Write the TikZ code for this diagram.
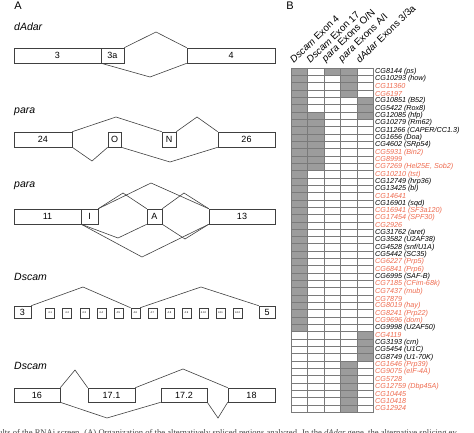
\documentclass[tikz,border=0pt]{standalone}
\usepackage{fontspec}
\setmainfont{Liberation Sans}
\newfontfamily\capfont{Liberation Serif}
\definecolor{hitred}{HTML}{EE6A4E}
\definecolor{cellgray}{HTML}{9C9C9C}
\definecolor{gridgray}{HTML}{7A7A7A}
\definecolor{boxline}{HTML}{404040}
\newcommand\glab[3]{\node[glabel,text=#3] (g#1) at (375,{68+(#1-0.5)*7.32}) {#2};}
\begin{document}
\begin{tikzpicture}[x=1pt,y=-1pt,
  exon/.style={draw=boxline, line width=0.6pt, fill=white, inner sep=0pt, font=\fontsize{9}{9}\selectfont},
  mini/.style={draw=boxline, line width=0.5pt, fill=white, inner sep=0pt, minimum width=9pt, minimum height=10pt, font=\fontsize{2.6}{2.6}\selectfont},
  junc/.style={draw=boxline, line width=0.6pt},
  gene/.style={anchor=west, inner sep=0pt, font=\fontsize{10.5}{10.5}\selectfont\itshape},
  panel/.style={inner sep=0pt, font=\fontsize{11}{11}\selectfont},
  glabel/.style={anchor=west, inner sep=0pt, font=\fontsize{7.2}{7.2}\selectfont\itshape},
  hdr/.style={anchor=south west, inner sep=0pt, rotate=44, font=\fontsize{9.8}{9.8}\selectfont},
  grid/.style={draw=gridgray, line width=0.4pt}
]
\useasboundingbox (0,0) rectangle (474,433);

% ---------- Panel A ----------
\node[panel] (lA) at (18,6) {A};

% dAdar
\node[gene] (t1) at (14,27) {dAdar};
\node[exon, minimum width=87pt, minimum height=15pt] (e3) at (57.5,55.5) {3};
\node[exon, minimum width=23pt, minimum height=15pt] (e3a) at (112.5,55.5) {3a};
\node[exon, minimum width=88pt, minimum height=15pt] (e4) at (231,55.5) {4};
\coordinate (p1) at (156,32);
\coordinate (p2) at (150,77);
\draw[junc] (e3a.north east) -- (p1) -- (e4.north west);
\draw[junc] (e3.south east) -- (p2) -- (e4.south west);

% para O/N
\node[gene] (t2) at (14,112) {para};
\node[exon, minimum width=58pt, minimum height=15pt] (e24) at (43,139.5) {24};
\node[exon, minimum width=13pt, minimum height=15pt] (eO) at (114.5,139.5) {O};
\node[exon, minimum width=14pt, minimum height=15pt] (eN) at (169,139.5) {N};
\node[exon, minimum width=57pt, minimum height=15pt] (e26) at (246.5,139.5) {26};
\coordinate (q1) at (116,117);
\coordinate (q2) at (197,117);
\coordinate (q3) at (92,161);
\coordinate (q4) at (170,162);
\draw[junc] (e24.north east) -- (q1) -- (eN.north west);
\draw[junc] (eN.north east) -- (q2) -- (e26.north west);
\draw[junc] (e24.south east) -- (q3) -- (eO.south west);
\draw[junc] (eO.south east) -- (q4) -- (e26.south west);

% para A/I
\node[gene] (t3) at (14,186) {para};
\node[exon, minimum width=67pt, minimum height=15pt] (e11) at (47.5,216.5) {11};
\node[exon, minimum width=17pt, minimum height=15pt] (eI) at (89.5,216.5) {I};
\node[exon, minimum width=15pt, minimum height=15pt] (eA) at (154.5,216.5) {A};
\node[exon, minimum width=66pt, minimum height=15pt] (e13) at (242,216.5) {13};
\coordinate (r1) at (123,193);
\coordinate (r2) at (151,183);
\coordinate (r3) at (184,193);
\coordinate (r4) at (118,238);
\coordinate (r5) at (142,257);
\coordinate (r6) at (185,239);
\draw[junc] (eI.north east) -- (r1) -- (eA.north west);
\draw[junc] (eI.north east) -- (r2) -- (e13.north west);
\draw[junc] (eA.north east) -- (r3) -- (e13.north west);
\draw[junc] (e11.south east) -- (r4) -- (eA.south west);
\draw[junc] (e11.south east) -- (r5) -- (e13.south west);
\draw[junc] (eA.south east) -- (r6) -- (e13.south west);

% Dscam exon 4
\node[gene] (t4) at (14,277) {Dscam};
\node[exon, minimum width=17pt, minimum height=12pt] (d3) at (22.5,312) {3};
\foreach \i in {1,...,12} {
  \node[mini] (d4\i) at ({50.2+(\i-1)*17.03},313) {4.\i};
}
\node[exon, minimum width=16pt, minimum height=12pt] (d5) at (267,312) {5};
\coordinate (s1) at (83,287);
\coordinate (s2) at (201,287);
\draw[junc] (d3.north east) -- (s1) -- (d46.north west);
\draw[junc] (d46.north east) -- (s2) -- (d5.north west);

% Dscam exon 17
\node[gene] (t5) at (14,366) {Dscam};
\node[exon, minimum width=46pt, minimum height=14pt] (f16) at (37,395) {16};
\node[exon, minimum width=47pt, minimum height=14pt] (f171) at (111.5,395) {17.1};
\node[exon, minimum width=46pt, minimum height=14pt] (f172) at (184,395) {17.2};
\node[exon, minimum width=47pt, minimum height=14pt] (f18) at (251.5,395) {18};
\coordinate (u1) at (75,370);
\coordinate (u2) at (183,369);
\coordinate (u3) at (107,418);
\coordinate (u4) at (218,418);
\draw[junc] (f16.north east) -- (u1) -- (f171.north west);
\draw[junc] (f171.north east) -- (u2) -- (f18.north west);
\draw[junc] (f16.south east) -- (u3) -- (f172.south west);
\draw[junc] (f172.south east) -- (u4) -- (f18.south west);

% ---------- Panel B ----------
\node[panel] (lB) at (290,6) {B};

\node[hdr] (h1) at (294,64) {\textit{Dscam} Exon 4};
\node[hdr] (h2) at (310.5,64) {\textit{Dscam} Exon 17};
\node[hdr] (h3) at (327,64) {\textit{para} Exons O/N};
\node[hdr] (h4) at (343.5,64) {\textit{para} Exons A/I};
\node[hdr] (h5) at (360,64) {\textit{dAdar} Exons 3/3a};

% shaded cells: column / first row / last row
\foreach \c/\a/\b in {1/1/36, 2/7/14, 3/1/1, 4/1/4, 4/41/47, 5/5/7, 5/37/40} {
  \fill[cellgray] ({291+(\c-1)*16.5},{68+(\a-1)*7.32}) rectangle ({291+\c*16.5},{68+\b*7.32});
}
% grid
\foreach \r in {0,...,47} {
  \draw[grid] (291,{68+\r*7.32}) -- (373.5,{68+\r*7.32});
}
\foreach \c in {0,...,5} {
  \draw[grid] ({291+\c*16.5},68) -- ({291+\c*16.5},{68+47*7.32});
}

% gene labels
\glab{1}{CG8144 (ps)}{black}
\glab{2}{CG10293 (how)}{black}
\glab{3}{CG11360}{hitred}
\glab{4}{CG6197}{hitred}
\glab{5}{CG10851 (B52)}{black}
\glab{6}{CG5422 (Rox8)}{black}
\glab{7}{CG12085 (hfp)}{black}
\glab{8}{CG10279 (Rm62)}{black}
\glab{9}{CG11266 (CAPER/CC1.3)}{black}
\glab{10}{CG1656 (Doa)}{black}
\glab{11}{CG4602 (SRp54)}{black}
\glab{12}{CG5931 (Bin2)}{hitred}
\glab{13}{CG8999}{hitred}
\glab{14}{CG7269 (Hel25E, Sob2)}{hitred}
\glab{15}{CG10210 (tst)}{hitred}
\glab{16}{CG12749 (hrp36)}{black}
\glab{17}{CG13425 (bl)}{black}
\glab{18}{CG14641}{hitred}
\glab{19}{CG16901 (sqd)}{black}
\glab{20}{CG16941 (SF3a120)}{hitred}
\glab{21}{CG17454 (SPF30)}{hitred}
\glab{22}{CG2926}{hitred}
\glab{23}{CG31762 (aret)}{black}
\glab{24}{CG3582 (U2AF38)}{black}
\glab{25}{CG4528 (snf/U1A)}{black}
\glab{26}{CG5442 (SC35)}{black}
\glab{27}{CG6227 (Prp5)}{hitred}
\glab{28}{CG6841 (Prp6)}{hitred}
\glab{29}{CG6995 (SAF-B)}{black}
\glab{30}{CG7185 (CFim-68k)}{hitred}
\glab{31}{CG7437 (mub)}{hitred}
\glab{32}{CG7879}{hitred}
\glab{33}{CG8019 (hay)}{hitred}
\glab{34}{CG8241 (Prp22)}{hitred}
\glab{35}{CG9696 (dom)}{hitred}
\glab{36}{CG9998 (U2AF50)}{black}
\glab{37}{CG4119}{hitred}
\glab{38}{CG3193 (crn)}{black}
\glab{39}{CG5454 (U1C)}{black}
\glab{40}{CG8749 (U1-70K)}{black}
\glab{41}{CG1646 (Prp39)}{hitred}
\glab{42}{CG9075 (eIF-4A)}{hitred}
\glab{43}{CG5728}{hitred}
\glab{44}{CG12759 (Dbp45A)}{hitred}
\glab{45}{CG10445}{hitred}
\glab{46}{CG10418}{hitred}
\glab{47}{CG12924}{hitred}

% cut-off caption line
\begin{scope}
\clip (0,0) rectangle (474,433);
\node[anchor=base west, inner sep=0pt, text=black!75, font=\capfont\fontsize{8.6}{8.6}\selectfont] (cap) at (-2,435.5) {ults of the RNAi screen. (A) Organization of the alternatively spliced regions analyzed. In the \textit{dAdar} gene, the alternative splicing ev};
\end{scope}
\end{tikzpicture}
\end{document}
